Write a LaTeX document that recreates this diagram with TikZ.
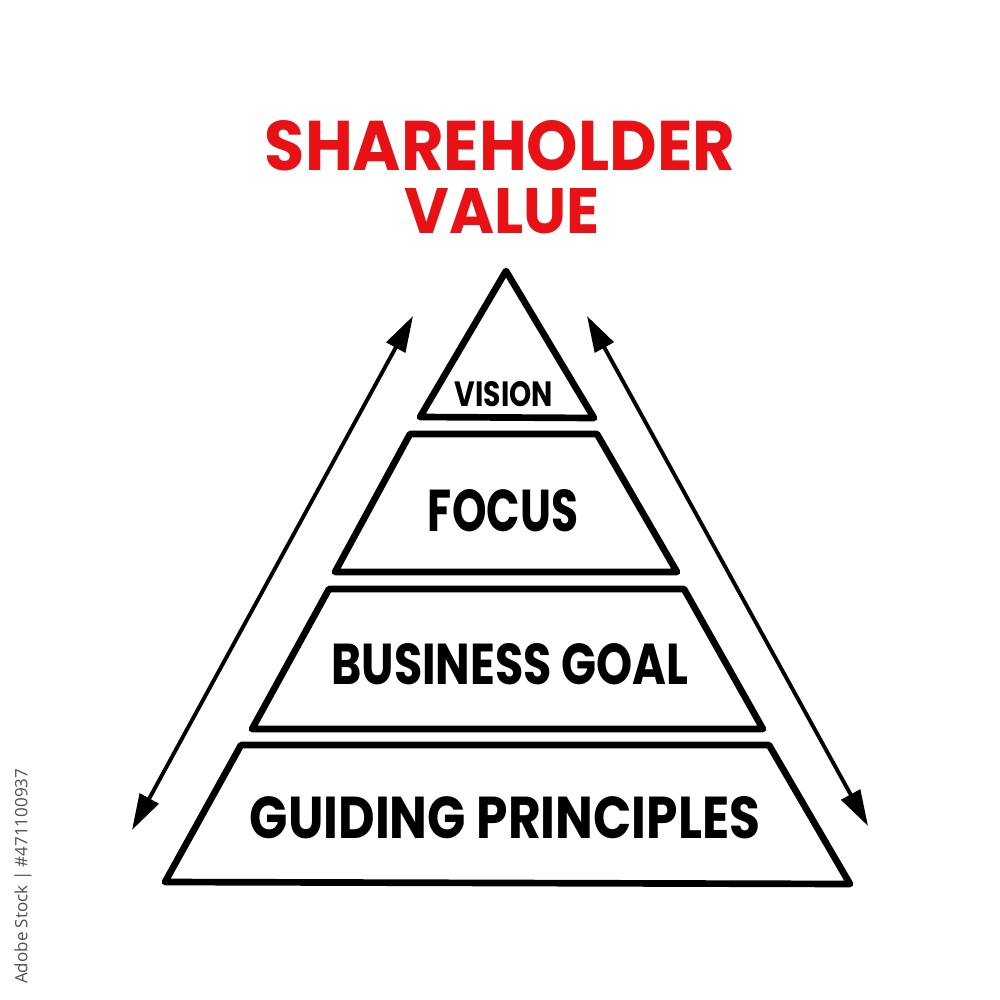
\documentclass[tikz,border=0pt]{standalone}
\usepackage{fontspec}
\setmainfont{Poppins}
\newfontfamily\wmfont{Open Sans}
\usetikzlibrary{arrows.meta}
\definecolor{titlered}{RGB}{232,18,22}
\definecolor{wmgray}{RGB}{80,80,80}
\tikzset{
  tier/.style={draw=black, line width=1.9pt, line join=round, line cap=round},
  lbl/.style={inner sep=0pt, text=black},
  ttl/.style={inner sep=0pt, text=titlered},
  dblarrow/.style={draw=black, line width=1.1pt, {Triangle[length=3.6mm,width=2.1mm]}-{Triangle[length=3.6mm,width=2.1mm]}}
}
\newcommand{\fitbox}[3]{\resizebox{#1}{#2}{\bfseries #3}}
\begin{document}
\begin{tikzpicture}[x=0.01cm,y=-0.01cm]
\useasboundingbox[fill=white] (0,0) rectangle (1000,1000);
% tiers
\draw[tier] (506,271) -- (594,418) -- (420,417) -- cycle;
\draw[tier] (410,434) -- (597,434) -- (677,572) -- (335,572) -- cycle;
\draw[tier] (329,589) -- (684,589) -- (763,729) -- (252,729) -- cycle;
\draw[tier] (241,745) -- (769,745) -- (850,884) -- (165,882) -- cycle;
% labels
\node[lbl] (vision) at (504,394) {\fitbox{0.98cm}{0.25cm}{VISION}};
\node[lbl] (focus) at (503,511) {\fitbox{1.50cm}{0.42cm}{FOCUS}};
\node[lbl] (goal) at (510,664) {\fitbox{3.57cm}{0.41cm}{BUSINESS GOAL}};
\node[lbl] (guide) at (505,818) {\fitbox{5.10cm}{0.42cm}{GUIDING PRINCIPLES}};
% title
\node[ttl] (title1) at (500,146) {\fitbox{4.70cm}{0.50cm}{SHAREHOLDER}};
\node[ttl] (title2) at (502,211) {\fitbox{1.95cm}{0.45cm}{VALUE}};
% arrows
\coordinate (la) at (132,830);
\coordinate (lb) at (413,316);
\coordinate (ra) at (587,316);
\coordinate (rb) at (868,826);
\draw[dblarrow] (la) -- (lb);
\draw[dblarrow] (ra) -- (rb);
% watermark
\node[inner sep=0pt, rotate=90, anchor=east, text=wmgray] (wm) at (23,768) {\resizebox{2.15cm}{!}{\wmfont Adobe Stock | \#471100937}};
\end{tikzpicture}
\end{document}
